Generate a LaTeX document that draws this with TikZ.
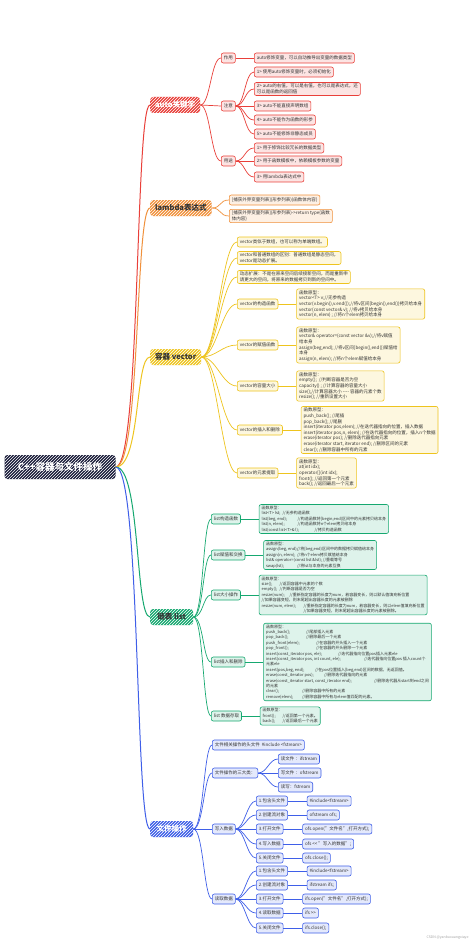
\documentclass[tikz,border=0pt]{standalone}
\usepackage{fontspec}
\setmainfont{Noto Sans CJK SC}
\usetikzlibrary{positioning, patterns}

\definecolor{rootc}{HTML}{1B1D3A}
\definecolor{autoc}{HTML}{E9403A}
\definecolor{lamc}{HTML}{F0913C}
\definecolor{vecc}{HTML}{EEC41E}
\definecolor{listc}{HTML}{16A870}
\definecolor{filec}{HTML}{3F5FE8}
\definecolor{txtc}{HTML}{333333}

\newcommand{\codecol}[2]{\makebox[#1][l]{#2}}

\begin{document}
\begin{tikzpicture}[
    x=1pt, y=-1pt,
    rootbox/.style={fill=rootc, text=white, rounded corners=3pt, minimum width=111pt, minimum height=24pt,
      font=\fontsize{9.5}{11}\selectfont\bfseries,
      postaction={pattern=north east lines, pattern color=white, fill opacity=0.3}},
    mainbox/.style={fill=#1, rounded corners=3pt, minimum height=16pt, minimum width=43pt, inner xsep=5pt,
      font=\fontsize{7.5}{9}\selectfont\bfseries,
      postaction={pattern=north east lines, pattern color=white, fill opacity=0.2}},
    subbox/.style={draw=#1, fill=#1!14, line width=0.6pt, rounded corners=2pt, minimum height=10pt,
      inner xsep=2.5pt, inner ysep=1.6pt, text=txtc, align=left, anchor=west,
      font=\fontsize{4.5}{5.6}\selectfont},
    listbox/.style={subbox=listc, font=\fontsize{4}{5.4}\selectfont},
    branch/.style={draw=#1, line width=0.7pt}
  ]
  \useasboundingbox (0,0) rectangle (474,944);
  \fill[white] (0,0) rectangle (474,944);

  % root and the five main topics
  \node[rootbox] (root) at (60,467) {C++容器与文件操作};
  \node[mainbox=autoc, text=white, anchor=west] (auto) at (150,105) {auto关键字};
  \node[mainbox=lamc, text=txtc, anchor=west] (lam) at (150,208) {lambda表达式};
  \node[mainbox=vecc, text=txtc, anchor=west] (vec) at (150,357) {容器 vector};
  \node[mainbox=listc, text=txtc, anchor=west] (lst) at (150,617) {链表 list};
  \node[mainbox=filec, text=white, anchor=west] (file) at (150,829) {文件操作};

  \foreach \m/\c in {auto/autoc, lam/lamc, vec/vecc, lst/listc, file/filec}
    \draw[branch=\c, line width=1pt] (root.east) .. controls +(25,0) and +(-15,0) .. (\m.west);

  % auto
  \node[subbox=autoc] (a1) at (221,58) {作用};
  \node[subbox=autoc] (a2) at (221,106) {注意};
  \node[subbox=autoc] (a3) at (221,161) {用途};
  \node[subbox=autoc] (a11) at (254,58) {auto修饰变量，可以自动推导出变量的数据类型};
  \node[subbox=autoc] (a21) at (254,72) {1> 使用auto修饰变量时，必须初始化};
  \node[subbox=autoc] (a22) at (254,89) {2> auto的右值，可以是右值，也可以是表达式，还\\可以是函数的返回值};
  \node[subbox=autoc] (a23) at (254,106) {3> auto不能直接声明数组};
  \node[subbox=autoc] (a24) at (254,120) {4> auto不能作为函数的形参};
  \node[subbox=autoc] (a25) at (254,134) {5> auto不能修饰非静态成员};
  \node[subbox=autoc] (a31) at (254,148) {1> 用于修饰比较冗长的数据类型};
  \node[subbox=autoc] (a32) at (254,161) {2> 用于函数模板中，依赖模板参数的变量};
  \node[subbox=autoc] (a33) at (254,177) {3> 用lambda表达式中};

  \foreach \s in {a1,a2,a3}
    \draw[branch=autoc] (auto.east) .. controls +(10,0) and +(-10,0) .. (\s.west);
  \draw[branch=autoc] (a1.east) -- (a11.west);
  \foreach \l in {a21,a22,a23,a24,a25}
    \draw[branch=autoc] (a2.east) .. controls +(9,0) and +(-9,0) .. (\l.west);
  \foreach \l in {a31,a32,a33}
    \draw[branch=autoc] (a3.east) .. controls +(9,0) and +(-9,0) .. (\l.west);

  % lambda
  \node[subbox=lamc] (l1) at (229,200) {[捕获外界变量列表](形参列表)\{函数体内容\}};
  \node[subbox=lamc] (l2) at (229,216) {[捕获外界变量列表](形参列表)->return type\{函数\\体内容\}};
  \foreach \s in {l1,l2}
    \draw[branch=lamc] (lam.east) .. controls +(10,0) and +(-10,0) .. (\s.west);

  % vector
  \node[subbox=vecc] (v1) at (237,242) {vector类似于数组，也可以称为单端数组。};
  \node[subbox=vecc] (v2) at (237,258) {vector和普通数组的区别：普通数组是静态空间，\\vector是动态扩展。};
  \node[subbox=vecc] (v3) at (237,277) {动态扩展：不是在原来空间后续接新空间，而是重新申\\请更大的空间，将原来的数据拷贝到新的空间中。};
  \node[subbox=vecc] (v4) at (237,304) {vector的构造函数};
  \node[subbox=vecc] (v5) at (237,345) {vector的赋值函数};
  \node[subbox=vecc] (v6) at (237,386) {vector的容量大小};
  \node[subbox=vecc] (v7) at (237,430) {vector的插入和删除};
  \node[subbox=vecc] (v8) at (237,473) {vector的元素提取};

  \node[subbox=vecc, right=18pt of v4] (v4c) {函数原型：\\
    vector<T> v;//无参构造\\
    vector(v.begin(),v.end());//将v区间[begin(),end())拷贝给本身\\
    vector(const vector\& v); //将v拷贝给本身\\
    vector(n, elem) ; //将n个elem拷贝给本身};
  \node[subbox=vecc, right=18pt of v5] (v5c) {函数原型：\\
    vector\& operator=(const vector \&v);//将v赋值\\
    给本身\\
    assign(beg,end); //将v区间[begin(),end())赋值给\\
    本身\\
    assign(n, elem); //将n个elem赋值给本身};
  \node[subbox=vecc, right=18pt of v6] (v6c) {函数原型：\\
    empty(); \ //判断容器是否为空\\
    capacity() ; //计算容器的容量大小\\
    size();//计算容器大小 -{}-{}-{}- 容器的元素个数\\
    resize(); //重新设置大小};
  \node[subbox=vecc, right=18pt of v7] (v7c) {函数原型：\\
    push\_back(); //尾插\\
    pop\_back(); //尾删\\
    insert(iterator pos,elem); //在迭代器指向的位置，插入数据\\
    insert(iterator pos,n, elem); //在迭代器指向的位置，插入n个数据\\
    erase(iterator pos); //删除迭代器指向元素\\
    erase(iterator start, iterator end); //删除区间的元素\\
    clear(); //删除容器中所有的元素};
  \node[subbox=vecc, right=18pt of v8] (v8c) {函数原型：\\
    at(int idx);\\
    operator[](int idx);\\
    front(); //返回第一个元素\\
    back(); //返回最后一个元素};

  \foreach \s in {v1,v2,v3,v4,v5,v6,v7,v8}
    \draw[branch=vecc] (vec.east) .. controls +(15,0) and +(-15,0) .. (\s.west);
  \foreach \s in {v4,v5,v6,v7,v8}
    \draw[branch=vecc] (\s.east) -- (\s c.west);

  % list
  \node[subbox=listc] (s1) at (211,519) {list构造函数};
  \node[subbox=listc] (s2) at (211,555) {list赋值和交换};
  \node[subbox=listc] (s3) at (211,595) {list大小操作};
  \node[subbox=listc] (s4) at (211,662) {list插入和删除};
  \node[subbox=listc] (s5) at (211,716) {list 数据存取};

  \node[listbox, right=18pt of s1] (s1c) {函数原型：\\
    \codecol{21pt}{list<T> lst;}//无参构造函数\\
    \codecol{36pt}{list(beg, end);}//构造函数将[begin,end)区间中的元素拷贝给本身\\
    \codecol{36pt}{list(n, elem);}//构造函数将n个elem拷贝给本身\\
    \codecol{53pt}{list(const list<T>\& l);}//拷贝构造函数};
  \node[listbox, right=18pt of s2] (s2c) {函数原型：\\
    \codecol{31pt}{assign(beg, end);}//将[beg,end)区间中的数据拷贝赋值给本身\\
    \codecol{31pt}{assign(n, elem);}//将n个elem拷贝赋值给本身\\
    list\& operator=(const list \&lst); //重载等号\\
    \codecol{31pt}{swap(lst);}//将lst与本身的元素互换};
  \node[listbox, right=18pt of s3] (s3c) {函数原型：\\
    \codecol{18pt}{size();}//返回容器中元素的个数\\
    \codecol{18pt}{empty();}//判断容器是否为空\\
    \codecol{28pt}{resize(num);}//重新指定容器的长度为num，若容器变长，则以默认值填充新位置\\
    //如果容器变短，则末尾超出容器长度的元素被删除\\
    \codecol{42pt}{resize(num, elem);}//重新指定容器的长度为num，若容器变长，则以elem值填充新位置\\
    \hspace*{42pt}//如果容器变短，则末尾超出容器长度的元素被删除。};
  \node[listbox, right=18pt of s4] (s4c) {函数原型：\\
    \codecol{40pt}{push\_back();}//尾部插入元素\\
    \codecol{40pt}{pop\_back();}//删除最后一个元素\\
    \codecol{50pt}{push\_front(elem);}//在容器的开头插入一个元素\\
    \codecol{50pt}{pop\_front();}//在容器的开头删除一个元素\\
    \codecol{72pt}{insert(const\_iterator pos, ele);}//迭代器指向位置pos插入元素ele\\
    \codecol{98pt}{insert(const\_iterator pos, int count, ele);}//迭代器指向位置pos 插入count个\\
    元素ele\\
    \codecol{49pt}{insert(pos,beg, end);}//在pos位置插入[beg,end)区间的数据，无返回值。\\
    \codecol{58pt}{erase(const\_iterator pos);}//删除迭代器指向的元素\\
    \codecol{108pt}{erase(const\_iterator start, const\_iterator end);}//删除迭代器从start到end之间\\
    的元素\\
    \codecol{36pt}{clear();}//删除容器中所有的元素\\
    \codecol{36pt}{remove(elem);}//删除容器中所有与elem值匹配的元素。};
  \node[listbox, right=18pt of s5] (s5c) {函数原型：\\
    \codecol{20pt}{front();}//返回第一个元素。\\
    \codecol{20pt}{back();}//返回最后一个元素};

  \foreach \s in {s1,s2,s3,s4,s5} {
    \draw[branch=listc] (lst.east) .. controls +(10,0) and +(-8,0) .. (\s.west);
    \draw[branch=listc] (\s.east) -- (\s c.west);
  }

  % file operations
  \node[subbox=filec] (f1) at (212,745) {文件相关操作的头文件 \ \#include <fstream>};
  \node[subbox=filec] (f2) at (212,773) {文件操作的三大类：};
  \node[subbox=filec] (f3) at (212,829) {写入数据};
  \node[subbox=filec] (f4) at (212,899) {读取数据};
  \node[subbox=filec] (f21) at (278,759) {读文件 ：ifstream};
  \node[subbox=filec] (f22) at (278,773) {写文件 ：ofstream};
  \node[subbox=filec] (f23) at (278,787) {读写：fstream};

  \node[subbox=filec] (w1) at (256,801) {1.包含头文件};
  \node[subbox=filec] (w2) at (256,815) {2.创建流对象};
  \node[subbox=filec] (w3) at (256,829) {3.打开文件};
  \node[subbox=filec] (w4) at (256,844) {4.写入数据};
  \node[subbox=filec] (w5) at (256,858) {5.关闭文件};
  \node[subbox=filec, right=19pt of w1] (w1v) {\#include<fstream>};
  \node[subbox=filec, right=19pt of w2] (w2v) {ofstream ofs;};
  \node[subbox=filec, right=19pt of w3] (w3v) {ofs.open("文件名",打开方式);};
  \node[subbox=filec, right=19pt of w4] (w4v) {ofs <{}< "写入的数据";};
  \node[subbox=filec, right=19pt of w5] (w5v) {ofs.close();};

  \node[subbox=filec] (r1) at (256,871) {1.包含头文件};
  \node[subbox=filec] (r2) at (256,885) {2.创建流对象};
  \node[subbox=filec] (r3) at (256,899) {3.打开文件};
  \node[subbox=filec] (r4) at (256,913) {4.读取数据};
  \node[subbox=filec] (r5) at (256,928) {5.关闭文件};
  \node[subbox=filec, right=19pt of r1] (r1v) {\#include<fstream>};
  \node[subbox=filec, right=19pt of r2] (r2v) {ifstream ifs;};
  \node[subbox=filec, right=19pt of r3] (r3v) {ifs.open("文件名",打开方式);};
  \node[subbox=filec, right=19pt of r4] (r4v) {ifs >{}>};
  \node[subbox=filec, right=19pt of r5] (r5v) {ifs.close();};

  \foreach \s in {f1,f2,f3,f4}
    \draw[branch=filec] (file.east) .. controls +(10,0) and +(-8,0) .. (\s.west);
  \foreach \s in {f21,f22,f23}
    \draw[branch=filec] (f2.east) .. controls +(9,0) and +(-9,0) .. (\s.west);
  \foreach \s in {1,...,5} {
    \draw[branch=filec] (f3.east) .. controls +(9,0) and +(-9,0) .. (w\s.west);
    \draw[branch=filec] (w\s.east) -- (w\s v.west);
    \draw[branch=filec] (f4.east) .. controls +(9,0) and +(-9,0) .. (r\s.west);
    \draw[branch=filec] (r\s.east) -- (r\s v.west);
  }

  \node[font=\fontsize{3.5}{4}\selectfont, text=gray!70, anchor=east] (mark) at (472,938) {CSDN @yanbuxuangxiaye};
\end{tikzpicture}
\end{document}
